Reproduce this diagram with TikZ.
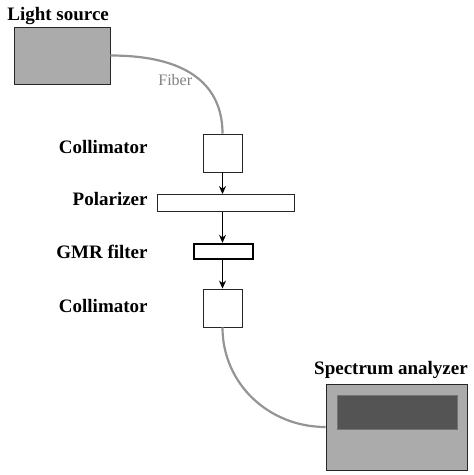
\documentclass[tikz,border=0pt]{standalone}
\usepackage{fontspec}
\setmainfont{Liberation Serif}
\newfontfamily\timesfont{Liberation Serif}
\usetikzlibrary{arrows.meta}

\begin{document}
\begin{tikzpicture}[
            x = 1pt, y = -1pt, % pixel units, y points down
            > = {Stealth[length = 8pt, width = 7pt]}, % arrow head style
            line width = 0.8pt % line style
        ]

        \tikzstyle{part}=[
            draw = black!85,
            line width = 0.9pt,
            fill = white,
            inner sep = 0pt
        ]
        \tikzstyle{device}=[part, fill = black!33]
        \tikzstyle{fiber}=[draw = black!42, line width = 2.2pt]
        \tikzstyle{tag}=[font = \timesfont\bfseries\fontsize{19}{22}\selectfont, inner sep = 0pt]

        \useasboundingbox (0,0) rectangle (474,475);

        % devices
        \node[device, minimum width = 96pt, minimum height = 57pt] (source) at (62,55.5) {};
        \node[device, minimum width = 141pt, minimum height = 86pt] (analyzer) at (396.5,427) {};
        \node[part, fill = black!67, draw = black!55, minimum width = 120pt, minimum height = 34pt] (screen) at (397,412) {};

        % optics
        \node[part, minimum width = 39pt, minimum height = 38pt] (coll1) at (222.5,153) {};
        \node[part, minimum width = 137pt, minimum height = 17pt] (pol) at (225.5,203) {};
        \node[part, line width = 2.4pt, draw = black, minimum width = 59pt, minimum height = 15pt] (gmr) at (223.5,251.5) {};
        \node[part, minimum width = 39pt, minimum height = 38pt] (coll2) at (222.5,308) {};

        % labels
        \node[tag, anchor = base west] (tsource) at (7,20) {Light source};
        \node[tag, anchor = base] (tanalyzer) at (391,374) {Spectrum analyzer};
        \node[tag, anchor = base east] (tcoll1) at (148,153) {Collimator};
        \node[tag, anchor = base east] (tpol) at (148,205) {Polarizer};
        \node[tag, anchor = base east] (tgmr) at (148,258) {GMR filter};
        \node[tag, anchor = base east] (tcoll2) at (148,312) {Collimator};

        % fibers
        \draw[fiber] (source.east) .. controls +(88,0) and +(0,-40) .. (coll1.north);
        \draw[fiber] (coll2.south) .. controls +(0,56) and +(-57,0) .. (analyzer.west);
        \node[text = black!50, font = \timesfont\fontsize{16}{19}\selectfont, inner sep = 0pt, anchor = base west] (tfiber) at (158,85) {Fiber};

        % beam
        \draw[->] (coll1.south) -- (coll1.south |- pol.north);
        \draw[->] (coll1.south |- pol.south) -- (coll1.south |- gmr.north);
        \draw[->] (coll1.south |- gmr.south) -- (coll2.north);

  \end{tikzpicture}
\end{document}
